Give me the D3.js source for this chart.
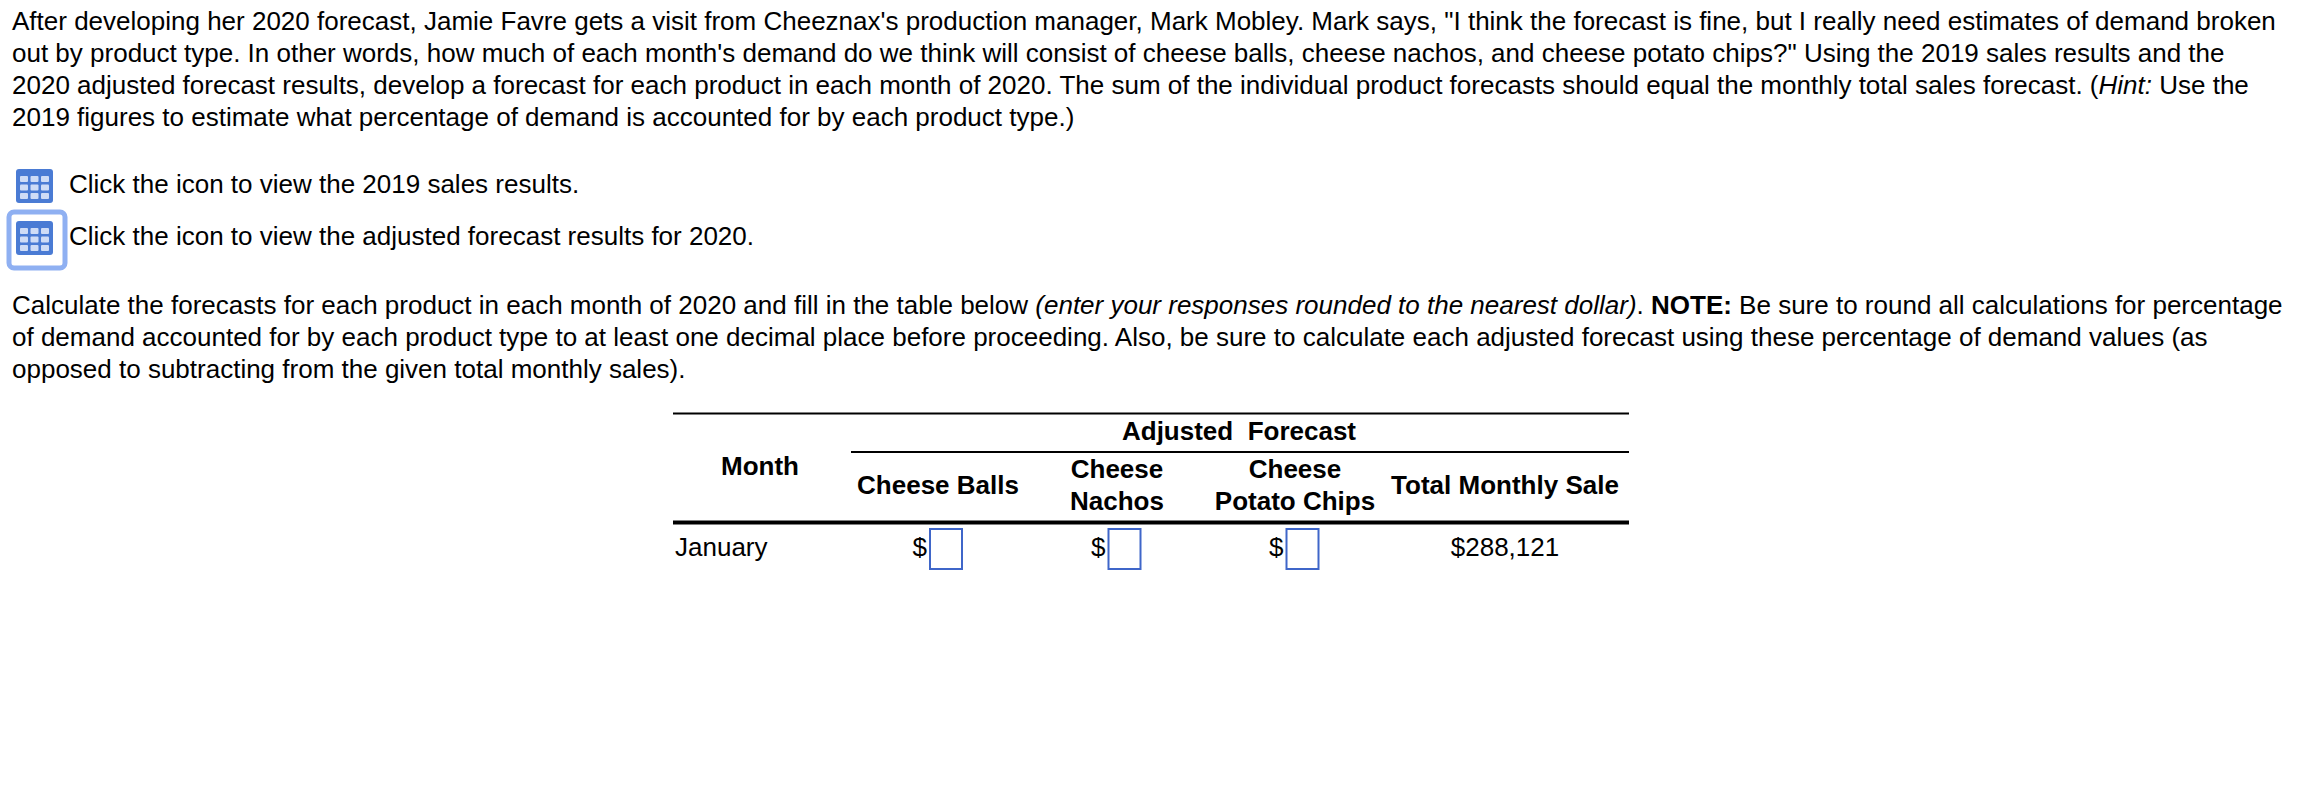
<!DOCTYPE html>
<html>
<head>
<meta charset="utf-8">
<script src="https://cdn.jsdelivr.net/npm/d3@7"></script>
<style>
  html, body { margin: 0; padding: 0; background: #fff; }
  svg { display: block; }
  text { font-family: "Liberation Sans", Arial, sans-serif; fill: #000; }
</style>
</head>
<body>
<svg id="chart"></svg>
<script>
// each line is a list of [text, style] runs
const introLines = [
  [["After developing her 2020 forecast, Jamie Favre gets a visit from Cheeznax's production manager, Mark Mobley. Mark says, \"I think the forecast is fine, but I really need estimates of demand broken", ""]],
  [["out by product type. In other words, how much of each month's demand do we think will consist of cheese balls, cheese nachos, and cheese potato chips?\" Using the 2019 sales results and the", ""]],
  [["2020 adjusted forecast results, develop a forecast for each product in each month of 2020. The sum of the individual product forecasts should equal the monthly total sales forecast. (", ""], ["Hint:", "i"], [" Use the", ""]],
  [["2019 figures to estimate what percentage of demand is accounted for by each product type.)", ""]]
];
const iconLines = ["Click the icon to view the 2019 sales results.", "Click the icon to view the adjusted forecast results for 2020."];
const noteLines = [
  [["Calculate the forecasts for each product in each month of 2020 and fill in the table below ", ""], ["(enter your responses rounded to the nearest dollar)", "i"], [". ", ""], ["NOTE:", "b"], [" Be sure to round all calculations for percentage", ""]],
  [["of demand accounted for by each product type to at least one decimal place before proceeding. Also, be sure to calculate each adjusted forecast using these percentage of demand values (as", ""]],
  [["opposed to subtracting from the given total monthly sales).", ""]]
];
const months = ["January"];
const totals = ["$288,121"];
const columns = ["balls", "nachos", "chips", "total"];
const columnHeads = [["Cheese Balls"], ["Cheese", "Nachos"], ["Cheese", "Potato Chips"], ["Total Monthly Sale"]];
const inputColumns = ["balls", "nachos", "chips"];

const width = 2302, height = 812;
const fontSize = 26;
const svg = d3.select("#chart").attr("width", width).attr("height", height);

const xCol = d3.scaleOrdinal().domain(columns).range([938, 1117, 1295, 1505]);
const xInput = d3.scaleOrdinal().domain(inputColumns).range([929, 1107.5, 1285.5]);

function drawLines(lines, x, y0, step) {
  lines.forEach((runs, i) => {
    const t = svg.append("text").attr("x", x).attr("y", y0 + i * step)
      .attr("font-size", fontSize).attr("xml:space", "preserve");
    runs.forEach(([s, style]) => {
      t.append("tspan").text(s)
        .attr("font-style", style === "i" ? "italic" : null)
        .attr("font-weight", style === "b" ? "bold" : null);
    });
  });
}

drawLines(introLines, 12, 30, 32);
drawLines(noteLines, 12, 314, 32);

// table icons
function drawIcon(x, y) {
  const g = svg.append("g").attr("transform", `translate(${x},${y})`);
  g.append("rect").attr("width", 37).attr("height", 34).attr("rx", 3).attr("fill", "#4a7bd4");
  d3.range(3).forEach(r => d3.range(3).forEach(c => {
    g.append("rect").attr("x", 4 + c * 10.5).attr("y", 7 + r * 8.5)
      .attr("width", 8).attr("height", 6).attr("rx", 1).attr("fill", "#cfdcf6");
  }));
}
svg.append("rect").attr("x", 9).attr("y", 212).attr("width", 56).attr("height", 56).attr("rx", 5)
  .attr("fill", "none").attr("stroke", "#8fb0f2").attr("stroke-width", 5);
iconLines.forEach((s, i) => {
  const y = [169, 221][i];
  drawIcon(16, y);
  svg.append("text").attr("x", 69).attr("y", y + 24).attr("font-size", fontSize).text(s);
});

// table rules
const rule = (x1, x2, y, w) => svg.append("line").attr("x1", x1).attr("x2", x2)
  .attr("y1", y).attr("y2", y).attr("stroke", "#000").attr("stroke-width", w);
rule(673, 1629, 413.5, 2);
rule(851, 1629, 452, 2);
rule(673, 1629, 522.5, 4);

const bold = (s, x, y) => svg.append("text").attr("x", x).attr("y", y).attr("text-anchor", "middle")
  .attr("font-size", fontSize).attr("font-weight", "bold").attr("xml:space", "preserve").text(s);
bold("Adjusted  Forecast", 1239, 440);
bold("Month", 760, 475);
columnHeads.forEach((lines, i) => {
  const c = columns[i];
  if (lines.length === 1) bold(lines[0], xCol(c), 494);
  else lines.forEach((s, j) => bold(s, xCol(c), 478 + j * 32));
});

// body rows
months.forEach((m, i) => {
  const y = 556 + i * 60;
  svg.append("text").attr("x", 675).attr("y", y).attr("font-size", fontSize).text(m);
  inputColumns.forEach(c => {
    svg.append("text").attr("x", xInput(c) - 2).attr("y", y).attr("text-anchor", "end")
      .attr("font-size", fontSize).text("$");
    svg.append("rect").attr("x", xInput(c) + 1).attr("y", y - 27).attr("width", 32).attr("height", 40)
      .attr("fill", "#fff").attr("stroke", "#3f66c9").attr("stroke-width", 2);
  });
  svg.append("text").attr("x", xCol("total")).attr("y", y).attr("text-anchor", "middle")
    .attr("font-size", fontSize).text(totals[i]);
});
</script>
</body>
</html>
